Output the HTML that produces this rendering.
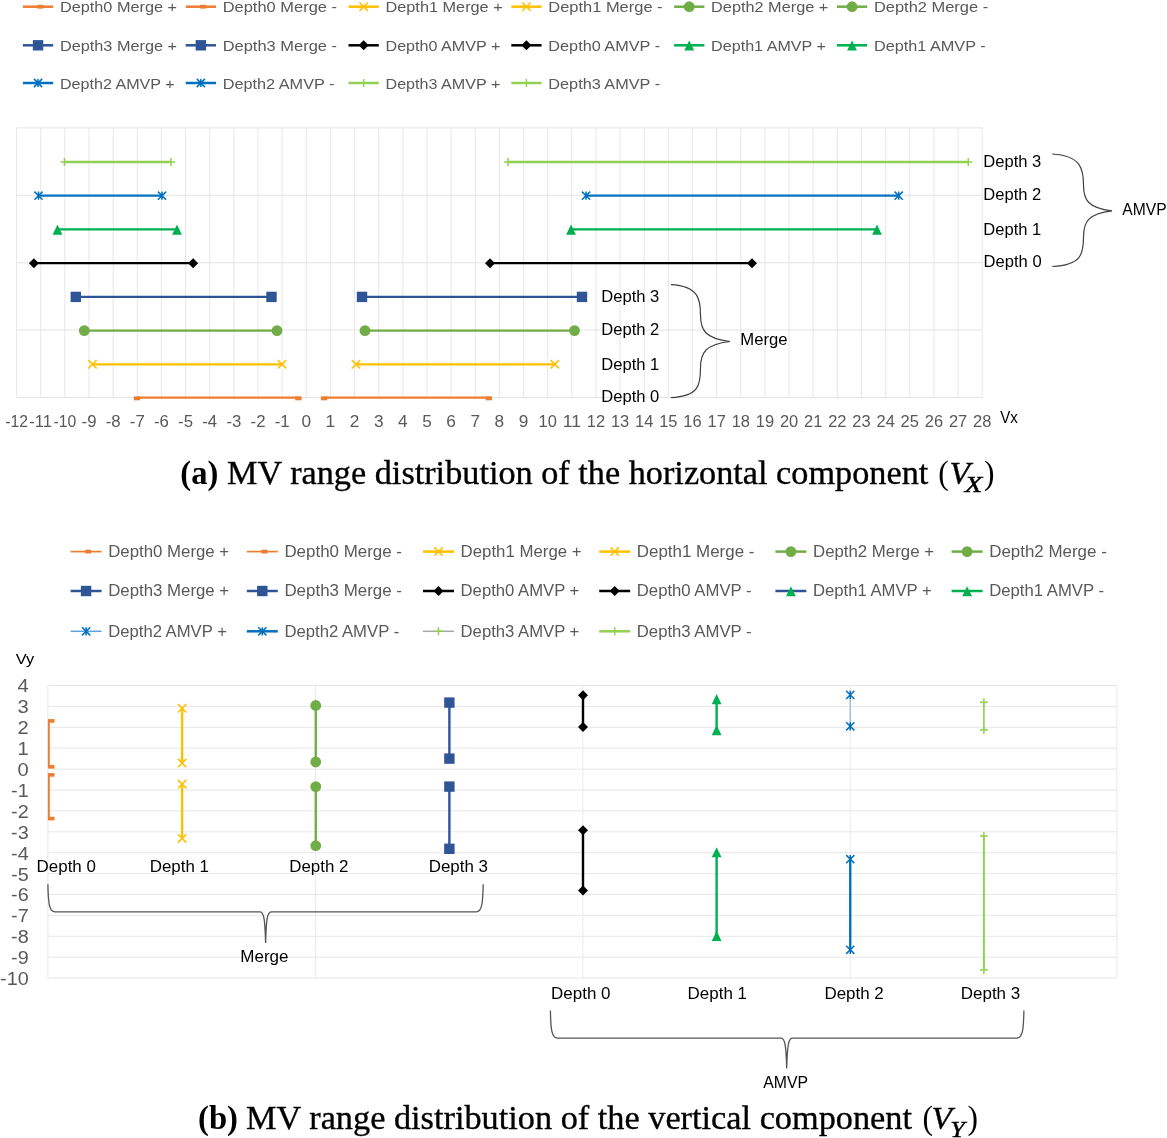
<!DOCTYPE html>
<html lang="en"><head><meta charset="utf-8"><title>MV range distribution</title>
<style>html,body{margin:0;padding:0;background:#fff}body{width:1167px;height:1138px;overflow:hidden}svg{display:block}</style>
</head><body>
<svg width="1167" height="1138" viewBox="0 0 1167 1138">
<rect width="1167" height="1138" fill="#fff"/>
<g font-family='"Liberation Sans", sans-serif' fill='#595959'>
<path d="M22.90 6.70H53.20" stroke="#ED7D31" stroke-width="2.5" fill="none"/>
<rect x="37.25" y="4.80" width="6" height="3.8" fill="#ED7D31"/>
<text x="59.90" y="12.30" font-size="15.5" textLength="117.20" lengthAdjust="spacingAndGlyphs">Depth0 Merge +</text>
<path d="M185.70 6.70H216.00" stroke="#ED7D31" stroke-width="2.5" fill="none"/>
<rect x="200.05" y="4.80" width="6" height="3.8" fill="#ED7D31"/>
<text x="222.70" y="12.30" font-size="15.5" textLength="114.30" lengthAdjust="spacingAndGlyphs">Depth0 Merge -</text>
<path d="M348.50 6.70H378.80" stroke="#FFC000" stroke-width="2.5" fill="none"/>
<path d="M359.45 2.50L367.85 10.90M359.45 10.90L367.85 2.50" stroke="#FFC000" stroke-width="1.60" fill="none"/>
<text x="385.50" y="12.30" font-size="15.5" textLength="117.20" lengthAdjust="spacingAndGlyphs">Depth1 Merge +</text>
<path d="M511.30 6.70H541.60" stroke="#FFC000" stroke-width="2.5" fill="none"/>
<path d="M522.25 2.50L530.65 10.90M522.25 10.90L530.65 2.50" stroke="#FFC000" stroke-width="1.60" fill="none"/>
<text x="548.30" y="12.30" font-size="15.5" textLength="114.30" lengthAdjust="spacingAndGlyphs">Depth1 Merge -</text>
<path d="M674.10 6.70H704.40" stroke="#70AD47" stroke-width="2.5" fill="none"/>
<circle cx="689.25" cy="6.70" r="5.40" fill="#70AD47"/>
<text x="711.10" y="12.30" font-size="15.5" textLength="117.20" lengthAdjust="spacingAndGlyphs">Depth2 Merge +</text>
<path d="M836.90 6.70H867.20" stroke="#70AD47" stroke-width="2.5" fill="none"/>
<circle cx="852.05" cy="6.70" r="5.40" fill="#70AD47"/>
<text x="873.90" y="12.30" font-size="15.5" textLength="114.30" lengthAdjust="spacingAndGlyphs">Depth2 Merge -</text>
<path d="M22.90 45.30H53.20" stroke="#2F5597" stroke-width="2.5" fill="none"/>
<rect x="32.85" y="40.10" width="10.40" height="10.40" fill="#2F5597"/>
<text x="59.90" y="50.90" font-size="15.5" textLength="117.20" lengthAdjust="spacingAndGlyphs">Depth3 Merge +</text>
<path d="M185.70 45.30H216.00" stroke="#2F5597" stroke-width="2.5" fill="none"/>
<rect x="195.65" y="40.10" width="10.40" height="10.40" fill="#2F5597"/>
<text x="222.70" y="50.90" font-size="15.5" textLength="114.30" lengthAdjust="spacingAndGlyphs">Depth3 Merge -</text>
<path d="M348.50 45.30H378.80" stroke="#000000" stroke-width="2.5" fill="none"/>
<path d="M358.65 45.30L363.65 40.30L368.65 45.30L363.65 50.30Z" fill="#000000"/>
<text x="385.50" y="50.90" font-size="15.5" textLength="114.80" lengthAdjust="spacingAndGlyphs">Depth0 AMVP +</text>
<path d="M511.30 45.30H541.60" stroke="#000000" stroke-width="2.5" fill="none"/>
<path d="M521.45 45.30L526.45 40.30L531.45 45.30L526.45 50.30Z" fill="#000000"/>
<text x="548.30" y="50.90" font-size="15.5" textLength="111.80" lengthAdjust="spacingAndGlyphs">Depth0 AMVP -</text>
<path d="M674.10 45.30H704.40" stroke="#00B050" stroke-width="2.5" fill="none"/>
<path d="M684.35 50.59L689.25 40.50L694.15 50.59Z" fill="#00B050"/>
<text x="711.10" y="50.90" font-size="15.5" textLength="114.80" lengthAdjust="spacingAndGlyphs">Depth1 AMVP +</text>
<path d="M836.90 45.30H867.20" stroke="#00B050" stroke-width="2.5" fill="none"/>
<path d="M847.15 50.59L852.05 40.50L856.95 50.59Z" fill="#00B050"/>
<text x="873.90" y="50.90" font-size="15.5" textLength="111.80" lengthAdjust="spacingAndGlyphs">Depth1 AMVP -</text>
<path d="M22.90 83.00H53.20" stroke="#0070C0" stroke-width="2.5" fill="none"/>
<path d="M33.95 78.90L42.15 87.10M33.95 87.10L42.15 78.90M38.05 78.90L38.05 87.10" stroke="#0070C0" stroke-width="1.50" fill="none"/>
<text x="59.90" y="88.60" font-size="15.5" textLength="114.80" lengthAdjust="spacingAndGlyphs">Depth2 AMVP +</text>
<path d="M185.70 83.00H216.00" stroke="#0070C0" stroke-width="2.5" fill="none"/>
<path d="M196.75 78.90L204.95 87.10M196.75 87.10L204.95 78.90M200.85 78.90L200.85 87.10" stroke="#0070C0" stroke-width="1.50" fill="none"/>
<text x="222.70" y="88.60" font-size="15.5" textLength="111.80" lengthAdjust="spacingAndGlyphs">Depth2 AMVP -</text>
<path d="M348.50 83.00H378.80" stroke="#92D050" stroke-width="2.5" fill="none"/>
<path d="M359.65 83.00L367.65 83.00M363.65 79.00L363.65 87.00" stroke="#92D050" stroke-width="1.50" fill="none"/>
<text x="385.50" y="88.60" font-size="15.5" textLength="114.80" lengthAdjust="spacingAndGlyphs">Depth3 AMVP +</text>
<path d="M511.30 83.00H541.60" stroke="#92D050" stroke-width="2.5" fill="none"/>
<path d="M522.45 83.00L530.45 83.00M526.45 79.00L526.45 87.00" stroke="#92D050" stroke-width="1.50" fill="none"/>
<text x="548.30" y="88.60" font-size="15.5" textLength="111.80" lengthAdjust="spacingAndGlyphs">Depth3 AMVP -</text>
<path d="M16.60 127.9V397.5M40.74 127.9V397.5M64.88 127.9V397.5M89.02 127.9V397.5M113.16 127.9V397.5M137.30 127.9V397.5M161.44 127.9V397.5M185.58 127.9V397.5M209.72 127.9V397.5M233.86 127.9V397.5M258.00 127.9V397.5M282.14 127.9V397.5M306.28 127.9V397.5M330.42 127.9V397.5M354.56 127.9V397.5M378.70 127.9V397.5M402.84 127.9V397.5M426.98 127.9V397.5M451.12 127.9V397.5M475.26 127.9V397.5M499.40 127.9V397.5M523.54 127.9V397.5M547.68 127.9V397.5M571.82 127.9V397.5M595.96 127.9V397.5M620.10 127.9V397.5M644.24 127.9V397.5M668.38 127.9V397.5M692.52 127.9V397.5M716.66 127.9V397.5M740.80 127.9V397.5M764.94 127.9V397.5M789.08 127.9V397.5M813.22 127.9V397.5M837.36 127.9V397.5M861.50 127.9V397.5M885.64 127.9V397.5M909.78 127.9V397.5M933.92 127.9V397.5M958.06 127.9V397.5M982.20 127.9V397.5" stroke="#e7e7e7" stroke-width="1" fill="none"/>
<path d="M16.6 397.50H982.2M16.6 330.10H982.2M16.6 262.70H982.2M16.6 195.30H982.2M16.6 127.90H982.2" stroke="#e4e4e4" stroke-width="1" fill="none"/>
<text x="5.20" y="426.70" font-size="15.8" textLength="22.80" lengthAdjust="spacingAndGlyphs">-12</text>
<text x="29.34" y="426.70" font-size="15.8" textLength="22.80" lengthAdjust="spacingAndGlyphs">-11</text>
<text x="53.48" y="426.70" font-size="15.8" textLength="22.80" lengthAdjust="spacingAndGlyphs">-10</text>
<text x="81.57" y="426.70" font-size="15.8" textLength="14.90" lengthAdjust="spacingAndGlyphs">-9</text>
<text x="105.71" y="426.70" font-size="15.8" textLength="14.90" lengthAdjust="spacingAndGlyphs">-8</text>
<text x="129.85" y="426.70" font-size="15.8" textLength="14.90" lengthAdjust="spacingAndGlyphs">-7</text>
<text x="153.99" y="426.70" font-size="15.8" textLength="14.90" lengthAdjust="spacingAndGlyphs">-6</text>
<text x="178.13" y="426.70" font-size="15.8" textLength="14.90" lengthAdjust="spacingAndGlyphs">-5</text>
<text x="202.27" y="426.70" font-size="15.8" textLength="14.90" lengthAdjust="spacingAndGlyphs">-4</text>
<text x="226.41" y="426.70" font-size="15.8" textLength="14.90" lengthAdjust="spacingAndGlyphs">-3</text>
<text x="250.55" y="426.70" font-size="15.8" textLength="14.90" lengthAdjust="spacingAndGlyphs">-2</text>
<text x="274.69" y="426.70" font-size="15.8" textLength="14.90" lengthAdjust="spacingAndGlyphs">-1</text>
<text x="301.48" y="426.70" font-size="15.8" textLength="9.60" lengthAdjust="spacingAndGlyphs">0</text>
<text x="325.62" y="426.70" font-size="15.8" textLength="9.60" lengthAdjust="spacingAndGlyphs">1</text>
<text x="349.76" y="426.70" font-size="15.8" textLength="9.60" lengthAdjust="spacingAndGlyphs">2</text>
<text x="373.90" y="426.70" font-size="15.8" textLength="9.60" lengthAdjust="spacingAndGlyphs">3</text>
<text x="398.04" y="426.70" font-size="15.8" textLength="9.60" lengthAdjust="spacingAndGlyphs">4</text>
<text x="422.18" y="426.70" font-size="15.8" textLength="9.60" lengthAdjust="spacingAndGlyphs">5</text>
<text x="446.32" y="426.70" font-size="15.8" textLength="9.60" lengthAdjust="spacingAndGlyphs">6</text>
<text x="470.46" y="426.70" font-size="15.8" textLength="9.60" lengthAdjust="spacingAndGlyphs">7</text>
<text x="494.60" y="426.70" font-size="15.8" textLength="9.60" lengthAdjust="spacingAndGlyphs">8</text>
<text x="518.74" y="426.70" font-size="15.8" textLength="9.60" lengthAdjust="spacingAndGlyphs">9</text>
<text x="538.53" y="426.70" font-size="15.8" textLength="18.30" lengthAdjust="spacingAndGlyphs">10</text>
<text x="562.67" y="426.70" font-size="15.8" textLength="18.30" lengthAdjust="spacingAndGlyphs">11</text>
<text x="586.81" y="426.70" font-size="15.8" textLength="18.30" lengthAdjust="spacingAndGlyphs">12</text>
<text x="610.95" y="426.70" font-size="15.8" textLength="18.30" lengthAdjust="spacingAndGlyphs">13</text>
<text x="635.09" y="426.70" font-size="15.8" textLength="18.30" lengthAdjust="spacingAndGlyphs">14</text>
<text x="659.23" y="426.70" font-size="15.8" textLength="18.30" lengthAdjust="spacingAndGlyphs">15</text>
<text x="683.37" y="426.70" font-size="15.8" textLength="18.30" lengthAdjust="spacingAndGlyphs">16</text>
<text x="707.51" y="426.70" font-size="15.8" textLength="18.30" lengthAdjust="spacingAndGlyphs">17</text>
<text x="731.65" y="426.70" font-size="15.8" textLength="18.30" lengthAdjust="spacingAndGlyphs">18</text>
<text x="755.79" y="426.70" font-size="15.8" textLength="18.30" lengthAdjust="spacingAndGlyphs">19</text>
<text x="779.93" y="426.70" font-size="15.8" textLength="18.30" lengthAdjust="spacingAndGlyphs">20</text>
<text x="804.07" y="426.70" font-size="15.8" textLength="18.30" lengthAdjust="spacingAndGlyphs">21</text>
<text x="828.21" y="426.70" font-size="15.8" textLength="18.30" lengthAdjust="spacingAndGlyphs">22</text>
<text x="852.35" y="426.70" font-size="15.8" textLength="18.30" lengthAdjust="spacingAndGlyphs">23</text>
<text x="876.49" y="426.70" font-size="15.8" textLength="18.30" lengthAdjust="spacingAndGlyphs">24</text>
<text x="900.63" y="426.70" font-size="15.8" textLength="18.30" lengthAdjust="spacingAndGlyphs">25</text>
<text x="924.77" y="426.70" font-size="15.8" textLength="18.30" lengthAdjust="spacingAndGlyphs">26</text>
<text x="948.91" y="426.70" font-size="15.8" textLength="18.30" lengthAdjust="spacingAndGlyphs">27</text>
<text x="973.05" y="426.70" font-size="15.8" textLength="18.30" lengthAdjust="spacingAndGlyphs">28</text>
<text x="1000.30" y="423.40" font-size="16" fill="#000" textLength="17.60" lengthAdjust="spacingAndGlyphs">Vx</text>
<path d="M137.00 397.65H298.40" stroke="#ED7D31" stroke-width="2.3" fill="none"/>
<rect x="133.80" y="396.40" width="6.4" height="3.9" fill="#ED7D31"/>
<rect x="295.20" y="396.40" width="6.4" height="3.9" fill="#ED7D31"/>
<path d="M324.10 397.65H488.80" stroke="#ED7D31" stroke-width="2.3" fill="none"/>
<rect x="320.90" y="396.40" width="6.4" height="3.9" fill="#ED7D31"/>
<rect x="485.60" y="396.40" width="6.4" height="3.9" fill="#ED7D31"/>
<path d="M92.50 364.30H282.00" stroke="#FFC000" stroke-width="2.3" fill="none"/>
<path d="M88.30 360.10L96.70 368.50M88.30 368.50L96.70 360.10" stroke="#FFC000" stroke-width="1.60" fill="none"/>
<path d="M277.80 360.10L286.20 368.50M277.80 368.50L286.20 360.10" stroke="#FFC000" stroke-width="1.60" fill="none"/>
<path d="M356.00 364.30H554.80" stroke="#FFC000" stroke-width="2.3" fill="none"/>
<path d="M351.80 360.10L360.20 368.50M351.80 368.50L360.20 360.10" stroke="#FFC000" stroke-width="1.60" fill="none"/>
<path d="M550.60 360.10L559.00 368.50M550.60 368.50L559.00 360.10" stroke="#FFC000" stroke-width="1.60" fill="none"/>
<path d="M84.30 330.60H277.00" stroke="#70AD47" stroke-width="2.3" fill="none"/>
<circle cx="84.30" cy="330.60" r="5.40" fill="#70AD47"/>
<circle cx="277.00" cy="330.60" r="5.40" fill="#70AD47"/>
<path d="M365.00 330.60H574.50" stroke="#70AD47" stroke-width="2.3" fill="none"/>
<circle cx="365.00" cy="330.60" r="5.40" fill="#70AD47"/>
<circle cx="574.50" cy="330.60" r="5.40" fill="#70AD47"/>
<path d="M75.80 296.90H271.50" stroke="#2F5597" stroke-width="2.3" fill="none"/>
<rect x="70.60" y="291.70" width="10.40" height="10.40" fill="#2F5597"/>
<rect x="266.30" y="291.70" width="10.40" height="10.40" fill="#2F5597"/>
<path d="M362.00 296.90H582.00" stroke="#2F5597" stroke-width="2.3" fill="none"/>
<rect x="356.80" y="291.70" width="10.40" height="10.40" fill="#2F5597"/>
<rect x="576.80" y="291.70" width="10.40" height="10.40" fill="#2F5597"/>
<path d="M33.90 263.20H193.10" stroke="#000000" stroke-width="2.3" fill="none"/>
<path d="M28.90 263.20L33.90 258.20L38.90 263.20L33.90 268.20Z" fill="#000000"/>
<path d="M188.10 263.20L193.10 258.20L198.10 263.20L193.10 268.20Z" fill="#000000"/>
<path d="M490.00 263.20H752.00" stroke="#000000" stroke-width="2.3" fill="none"/>
<path d="M485.00 263.20L490.00 258.20L495.00 263.20L490.00 268.20Z" fill="#000000"/>
<path d="M747.00 263.20L752.00 258.20L757.00 263.20L752.00 268.20Z" fill="#000000"/>
<path d="M57.50 229.40H177.00" stroke="#00B050" stroke-width="2.3" fill="none"/>
<path d="M52.60 234.69L57.50 224.60L62.40 234.69Z" fill="#00B050"/>
<path d="M172.10 234.69L177.00 224.60L181.90 234.69Z" fill="#00B050"/>
<path d="M571.00 229.40H877.00" stroke="#00B050" stroke-width="2.3" fill="none"/>
<path d="M566.10 234.69L571.00 224.60L575.90 234.69Z" fill="#00B050"/>
<path d="M872.10 234.69L877.00 224.60L881.90 234.69Z" fill="#00B050"/>
<path d="M38.50 195.70H162.00" stroke="#0070C0" stroke-width="2.3" fill="none"/>
<path d="M34.40 191.60L42.60 199.80M34.40 199.80L42.60 191.60M38.50 191.60L38.50 199.80" stroke="#0070C0" stroke-width="1.50" fill="none"/>
<path d="M157.90 191.60L166.10 199.80M157.90 199.80L166.10 191.60M162.00 191.60L162.00 199.80" stroke="#0070C0" stroke-width="1.50" fill="none"/>
<path d="M586.00 195.70H898.70" stroke="#0070C0" stroke-width="2.3" fill="none"/>
<path d="M581.90 191.60L590.10 199.80M581.90 199.80L590.10 191.60M586.00 191.60L586.00 199.80" stroke="#0070C0" stroke-width="1.50" fill="none"/>
<path d="M894.60 191.60L902.80 199.80M894.60 199.80L902.80 191.60M898.70 191.60L898.70 199.80" stroke="#0070C0" stroke-width="1.50" fill="none"/>
<path d="M64.40 162.00H171.00" stroke="#92D050" stroke-width="2.3" fill="none"/>
<path d="M60.40 162.00L68.40 162.00M64.40 158.00L64.40 166.00" stroke="#92D050" stroke-width="1.50" fill="none"/>
<path d="M167.00 162.00L175.00 162.00M171.00 158.00L171.00 166.00" stroke="#92D050" stroke-width="1.50" fill="none"/>
<path d="M508.00 162.00H968.30" stroke="#92D050" stroke-width="2.3" fill="none"/>
<path d="M504.00 162.00L512.00 162.00M508.00 158.00L508.00 166.00" stroke="#92D050" stroke-width="1.50" fill="none"/>
<path d="M964.30 162.00L972.30 162.00M968.30 158.00L968.30 166.00" stroke="#92D050" stroke-width="1.50" fill="none"/>
<text x="601.30" y="402.30" font-size="16.5" fill="#000" textLength="58.00" lengthAdjust="spacingAndGlyphs">Depth 0</text>
<text x="601.30" y="369.70" font-size="16.5" fill="#000" textLength="58.00" lengthAdjust="spacingAndGlyphs">Depth 1</text>
<text x="601.30" y="334.80" font-size="16.5" fill="#000" textLength="58.00" lengthAdjust="spacingAndGlyphs">Depth 2</text>
<text x="601.30" y="302.20" font-size="16.5" fill="#000" textLength="58.00" lengthAdjust="spacingAndGlyphs">Depth 3</text>
<text x="983.60" y="267.20" font-size="16.5" fill="#000" textLength="58.00" lengthAdjust="spacingAndGlyphs">Depth 0</text>
<text x="983.30" y="234.60" font-size="16.5" fill="#000" textLength="58.00" lengthAdjust="spacingAndGlyphs">Depth 1</text>
<text x="983.30" y="200.20" font-size="16.5" fill="#000" textLength="58.00" lengthAdjust="spacingAndGlyphs">Depth 2</text>
<text x="983.30" y="167.30" font-size="16.5" fill="#000" textLength="58.00" lengthAdjust="spacingAndGlyphs">Depth 3</text>
<text x="740.30" y="345.00" font-size="16.6" fill="#000" textLength="47.30" lengthAdjust="spacingAndGlyphs">Merge</text>
<text x="1122.30" y="214.60" font-size="16.6" fill="#000" textLength="44.30" lengthAdjust="spacingAndGlyphs">AMVP</text>
<path d="M671 284.6C699 286 700.5 300 700.5 315C700.5 330 705 338.5 730 341.5C705 344.5 700.5 353 700.5 368C700.5 385 699 396.3 671 397.7" stroke="#404040" stroke-width="1.2" fill="none"/>
<path d="M1052.2 154C1081.5 155.5 1083.5 170 1083.5 185C1083.5 200 1088 208 1112 210.8C1088 213.6 1083.5 222 1083.5 237C1083.5 254 1081.5 265 1052.2 266.5" stroke="#404040" stroke-width="1.2" fill="none"/>
<text x="180.30" y="484.30" font-size="34" fill="#000" textLength="38.00" lengthAdjust="spacingAndGlyphs" font-family='"Liberation Serif", serif' font-weight="bold">(a)</text>
<text x="227" y="484.3" font-size="34" fill="#000" stroke="#000" stroke-width="0.35" font-family='"Liberation Serif", serif' textLength="701.30" lengthAdjust="spacingAndGlyphs">MV range distribution of the horizontal component</text>
<text x="938.30" y="484.30" font-size="34" fill="#000" textLength="10.50" lengthAdjust="spacingAndGlyphs" font-family='"Liberation Serif", serif'>(</text>
<text x="949.5" y="484.3" font-size="32.5" fill="#000" stroke="#000" stroke-width="0.4" font-family='"Liberation Serif", serif' font-style="italic" textLength="20.5" lengthAdjust="spacingAndGlyphs">V</text>
<text x="964.8" y="491.5" font-size="22.5" fill="#000" stroke="#000" stroke-width="0.45" font-family='"Liberation Serif", serif' font-style="italic" textLength="17.5" lengthAdjust="spacingAndGlyphs">X</text>
<text x="984.00" y="484.30" font-size="34" fill="#000" textLength="10.50" lengthAdjust="spacingAndGlyphs" font-family='"Liberation Serif", serif'>)</text>
<path d="M70.60 551.60H101.60" stroke="#ED7D31" stroke-width="1.7" fill="none"/>
<rect x="85.30" y="549.70" width="6" height="3.8" fill="#ED7D31"/>
<text x="108.20" y="557.00" font-size="17" textLength="121.00" lengthAdjust="spacingAndGlyphs">Depth0 Merge +</text>
<path d="M246.80 551.60H277.80" stroke="#ED7D31" stroke-width="1.7" fill="none"/>
<rect x="261.50" y="549.70" width="6" height="3.8" fill="#ED7D31"/>
<text x="284.40" y="557.00" font-size="17" textLength="117.60" lengthAdjust="spacingAndGlyphs">Depth0 Merge -</text>
<path d="M423.00 551.60H454.00" stroke="#FFC000" stroke-width="2.5" fill="none"/>
<path d="M434.30 547.40L442.70 555.80M434.30 555.80L442.70 547.40" stroke="#FFC000" stroke-width="1.60" fill="none"/>
<text x="460.60" y="557.00" font-size="17" textLength="121.00" lengthAdjust="spacingAndGlyphs">Depth1 Merge +</text>
<path d="M599.20 551.60H630.20" stroke="#FFC000" stroke-width="2.5" fill="none"/>
<path d="M610.50 547.40L618.90 555.80M610.50 555.80L618.90 547.40" stroke="#FFC000" stroke-width="1.60" fill="none"/>
<text x="636.80" y="557.00" font-size="17" textLength="117.60" lengthAdjust="spacingAndGlyphs">Depth1 Merge -</text>
<path d="M775.40 551.60H806.40" stroke="#70AD47" stroke-width="2.5" fill="none"/>
<circle cx="790.90" cy="551.60" r="5.40" fill="#70AD47"/>
<text x="813.00" y="557.00" font-size="17" textLength="121.00" lengthAdjust="spacingAndGlyphs">Depth2 Merge +</text>
<path d="M951.60 551.60H982.60" stroke="#70AD47" stroke-width="2.5" fill="none"/>
<circle cx="967.10" cy="551.60" r="5.40" fill="#70AD47"/>
<text x="989.20" y="557.00" font-size="17" textLength="117.60" lengthAdjust="spacingAndGlyphs">Depth2 Merge -</text>
<path d="M70.60 591.00H101.60" stroke="#2F5597" stroke-width="2.5" fill="none"/>
<rect x="80.90" y="585.80" width="10.40" height="10.40" fill="#2F5597"/>
<text x="108.20" y="596.40" font-size="17" textLength="121.00" lengthAdjust="spacingAndGlyphs">Depth3 Merge +</text>
<path d="M246.80 591.00H277.80" stroke="#2F5597" stroke-width="2.5" fill="none"/>
<rect x="257.10" y="585.80" width="10.40" height="10.40" fill="#2F5597"/>
<text x="284.40" y="596.40" font-size="17" textLength="117.60" lengthAdjust="spacingAndGlyphs">Depth3 Merge -</text>
<path d="M423.00 591.00H454.00" stroke="#000000" stroke-width="2.5" fill="none"/>
<path d="M433.50 591.00L438.50 586.00L443.50 591.00L438.50 596.00Z" fill="#000000"/>
<text x="460.60" y="596.40" font-size="17" textLength="118.70" lengthAdjust="spacingAndGlyphs">Depth0 AMVP +</text>
<path d="M599.20 591.00H630.20" stroke="#000000" stroke-width="2.5" fill="none"/>
<path d="M609.70 591.00L614.70 586.00L619.70 591.00L614.70 596.00Z" fill="#000000"/>
<text x="636.80" y="596.40" font-size="17" textLength="114.80" lengthAdjust="spacingAndGlyphs">Depth0 AMVP -</text>
<path d="M775.40 591.00H806.40" stroke="#2F5597" stroke-width="2.5" fill="none"/>
<path d="M786.00 596.29L790.90 586.20L795.80 596.29Z" fill="#00B050"/>
<text x="813.00" y="596.40" font-size="17" textLength="118.70" lengthAdjust="spacingAndGlyphs">Depth1 AMVP +</text>
<path d="M951.60 591.00H982.60" stroke="#00B050" stroke-width="2.5" fill="none"/>
<path d="M962.20 596.29L967.10 586.20L972.00 596.29Z" fill="#00B050"/>
<text x="989.20" y="596.40" font-size="17" textLength="114.80" lengthAdjust="spacingAndGlyphs">Depth1 AMVP -</text>
<path d="M70.60 631.30H101.60" stroke="#5BA3D9" stroke-width="1.5" fill="none"/>
<path d="M82.00 627.20L90.20 635.40M82.00 635.40L90.20 627.20M86.10 627.20L86.10 635.40" stroke="#0070C0" stroke-width="1.50" fill="none"/>
<text x="108.20" y="636.70" font-size="17" textLength="118.70" lengthAdjust="spacingAndGlyphs">Depth2 AMVP +</text>
<path d="M246.80 631.30H277.80" stroke="#0070C0" stroke-width="2.5" fill="none"/>
<path d="M258.20 627.20L266.40 635.40M258.20 635.40L266.40 627.20M262.30 627.20L262.30 635.40" stroke="#0070C0" stroke-width="1.50" fill="none"/>
<text x="284.40" y="636.70" font-size="17" textLength="114.80" lengthAdjust="spacingAndGlyphs">Depth2 AMVP -</text>
<path d="M423.00 631.30H454.00" stroke="#a6a6a6" stroke-width="1.5" fill="none"/>
<path d="M434.50 631.30L442.50 631.30M438.50 627.30L438.50 635.30" stroke="#92D050" stroke-width="1.50" fill="none"/>
<text x="460.60" y="636.70" font-size="17" textLength="118.70" lengthAdjust="spacingAndGlyphs">Depth3 AMVP +</text>
<path d="M599.20 631.30H630.20" stroke="#92D050" stroke-width="2.5" fill="none"/>
<path d="M610.70 631.30L618.70 631.30M614.70 627.30L614.70 635.30" stroke="#92D050" stroke-width="1.50" fill="none"/>
<text x="636.80" y="636.70" font-size="17" textLength="114.80" lengthAdjust="spacingAndGlyphs">Depth3 AMVP -</text>
<path d="M47.9 685.50H1116.9M47.9 706.40H1116.9M47.9 727.30H1116.9M47.9 748.20H1116.9M47.9 769.10H1116.9M47.9 790.00H1116.9M47.9 810.90H1116.9M47.9 831.80H1116.9M47.9 852.70H1116.9M47.9 873.60H1116.9M47.9 894.50H1116.9M47.9 915.40H1116.9M47.9 936.30H1116.9M47.9 957.20H1116.9M47.9 978.10H1116.9" stroke="#e7e7e7" stroke-width="1" fill="none"/>
<path d="M47.90 685.5V978.1M315.65 685.5V978.1M582.90 685.5V978.1M850.15 685.5V978.1M1116.90 685.5V978.1" stroke="#e8e8e8" stroke-width="1" fill="none"/>
<text x="17.50" y="692.40" font-size="19.2" textLength="11.20" lengthAdjust="spacingAndGlyphs">4</text>
<text x="17.50" y="713.30" font-size="19.2" textLength="11.20" lengthAdjust="spacingAndGlyphs">3</text>
<text x="17.50" y="734.20" font-size="19.2" textLength="11.20" lengthAdjust="spacingAndGlyphs">2</text>
<text x="17.50" y="755.10" font-size="19.2" textLength="11.20" lengthAdjust="spacingAndGlyphs">1</text>
<text x="17.50" y="776.00" font-size="19.2" textLength="11.20" lengthAdjust="spacingAndGlyphs">0</text>
<text x="11.10" y="796.90" font-size="19.2" textLength="17.60" lengthAdjust="spacingAndGlyphs">-1</text>
<text x="11.10" y="817.80" font-size="19.2" textLength="17.60" lengthAdjust="spacingAndGlyphs">-2</text>
<text x="11.10" y="838.70" font-size="19.2" textLength="17.60" lengthAdjust="spacingAndGlyphs">-3</text>
<text x="11.10" y="859.60" font-size="19.2" textLength="17.60" lengthAdjust="spacingAndGlyphs">-4</text>
<text x="11.10" y="880.50" font-size="19.2" textLength="17.60" lengthAdjust="spacingAndGlyphs">-5</text>
<text x="11.10" y="901.40" font-size="19.2" textLength="17.60" lengthAdjust="spacingAndGlyphs">-6</text>
<text x="11.10" y="922.30" font-size="19.2" textLength="17.60" lengthAdjust="spacingAndGlyphs">-7</text>
<text x="11.10" y="943.20" font-size="19.2" textLength="17.60" lengthAdjust="spacingAndGlyphs">-8</text>
<text x="11.10" y="964.10" font-size="19.2" textLength="17.60" lengthAdjust="spacingAndGlyphs">-9</text>
<text x="0.10" y="985.00" font-size="19.2" textLength="28.60" lengthAdjust="spacingAndGlyphs">-10</text>
<text x="15.80" y="664.20" font-size="14.8" fill="#000" textLength="18.50" lengthAdjust="spacingAndGlyphs">Vy</text>
<rect x="47.90" y="720.90" width="1.9" height="45.90" fill="#ED7D31"/>
<rect x="47.90" y="719.10" width="6.6" height="3.6" fill="#ED7D31"/>
<rect x="47.90" y="765.00" width="6.6" height="3.6" fill="#ED7D31"/>
<rect x="47.90" y="774.90" width="1.9" height="43.70" fill="#ED7D31"/>
<rect x="47.90" y="773.10" width="6.6" height="3.6" fill="#ED7D31"/>
<rect x="47.90" y="816.80" width="6.6" height="3.6" fill="#ED7D31"/>
<path d="M182.12 708.30V763.10" stroke="#FFC000" stroke-width="2.4" fill="none"/>
<path d="M177.93 704.10L186.32 712.50M177.93 712.50L186.32 704.10" stroke="#FFC000" stroke-width="1.60" fill="none"/>
<path d="M177.93 758.90L186.32 767.30M177.93 767.30L186.32 758.90" stroke="#FFC000" stroke-width="1.60" fill="none"/>
<path d="M182.12 784.10V838.40" stroke="#FFC000" stroke-width="2.4" fill="none"/>
<path d="M177.93 779.90L186.32 788.30M177.93 788.30L186.32 779.90" stroke="#FFC000" stroke-width="1.60" fill="none"/>
<path d="M177.93 834.20L186.32 842.60M177.93 842.60L186.32 834.20" stroke="#FFC000" stroke-width="1.60" fill="none"/>
<path d="M315.75 705.50V762.00" stroke="#70AD47" stroke-width="2.4" fill="none"/>
<circle cx="315.75" cy="705.50" r="5.40" fill="#70AD47"/>
<circle cx="315.75" cy="762.00" r="5.40" fill="#70AD47"/>
<path d="M315.75 786.60V845.70" stroke="#70AD47" stroke-width="2.4" fill="none"/>
<circle cx="315.75" cy="786.60" r="5.40" fill="#70AD47"/>
<circle cx="315.75" cy="845.70" r="5.40" fill="#70AD47"/>
<path d="M449.38 702.60V758.60" stroke="#2F5597" stroke-width="2.4" fill="none"/>
<rect x="444.18" y="697.40" width="10.40" height="10.40" fill="#2F5597"/>
<rect x="444.18" y="753.40" width="10.40" height="10.40" fill="#2F5597"/>
<path d="M449.38 786.60V848.80" stroke="#2F5597" stroke-width="2.4" fill="none"/>
<rect x="444.18" y="781.40" width="10.40" height="10.40" fill="#2F5597"/>
<rect x="444.18" y="843.60" width="10.40" height="10.40" fill="#2F5597"/>
<path d="M583.00 695.30V727.10" stroke="#000000" stroke-width="2.4" fill="none"/>
<path d="M578.00 695.30L583.00 690.30L588.00 695.30L583.00 700.30Z" fill="#000000"/>
<path d="M578.00 727.10L583.00 722.10L588.00 727.10L583.00 732.10Z" fill="#000000"/>
<path d="M583.00 830.20V890.60" stroke="#000000" stroke-width="2.4" fill="none"/>
<path d="M578.00 830.20L583.00 825.20L588.00 830.20L583.00 835.20Z" fill="#000000"/>
<path d="M578.00 890.60L583.00 885.60L588.00 890.60L583.00 895.60Z" fill="#000000"/>
<path d="M716.62 698.90V729.90" stroke="#00B050" stroke-width="2.4" fill="none"/>
<path d="M711.73 704.19L716.62 694.10L721.52 704.19Z" fill="#00B050"/>
<path d="M711.73 735.19L716.62 725.10L721.52 735.19Z" fill="#00B050"/>
<path d="M716.62 852.00V935.70" stroke="#00B050" stroke-width="2.4" fill="none"/>
<path d="M711.73 857.29L716.62 847.20L721.52 857.29Z" fill="#00B050"/>
<path d="M711.73 940.99L716.62 930.90L721.52 940.99Z" fill="#00B050"/>
<path d="M850.25 694.90V726.30" stroke="#8DBDE6" stroke-width="1.3" fill="none"/>
<path d="M846.15 690.80L854.35 699.00M846.15 699.00L854.35 690.80M850.25 690.80L850.25 699.00" stroke="#0070C0" stroke-width="1.50" fill="none"/>
<path d="M846.15 722.20L854.35 730.40M846.15 730.40L854.35 722.20M850.25 722.20L850.25 730.40" stroke="#0070C0" stroke-width="1.50" fill="none"/>
<path d="M850.25 859.20V949.80" stroke="#0070C0" stroke-width="2.4" fill="none"/>
<path d="M846.15 855.10L854.35 863.30M846.15 863.30L854.35 855.10M850.25 855.10L850.25 863.30" stroke="#0070C0" stroke-width="1.50" fill="none"/>
<path d="M846.15 945.70L854.35 953.90M846.15 953.90L854.35 945.70M850.25 945.70L850.25 953.90" stroke="#0070C0" stroke-width="1.50" fill="none"/>
<path d="M983.88 702.20V729.90" stroke="#92D050" stroke-width="1.6" fill="none"/>
<path d="M979.88 702.20L987.88 702.20M983.88 698.20L983.88 706.20" stroke="#92D050" stroke-width="1.50" fill="none"/>
<path d="M979.88 729.90L987.88 729.90M983.88 725.90L983.88 733.90" stroke="#92D050" stroke-width="1.50" fill="none"/>
<path d="M983.88 835.90V970.00" stroke="#92D050" stroke-width="2.0" fill="none"/>
<path d="M979.88 835.90L987.88 835.90M983.88 831.90L983.88 839.90" stroke="#92D050" stroke-width="1.50" fill="none"/>
<path d="M979.88 970.00L987.88 970.00M983.88 966.00L983.88 974.00" stroke="#92D050" stroke-width="1.50" fill="none"/>
<text x="36.60" y="872.30" font-size="16.2" fill="#000" textLength="59.30" lengthAdjust="spacingAndGlyphs">Depth 0</text>
<text x="149.70" y="872.30" font-size="16.2" fill="#000" textLength="59.30" lengthAdjust="spacingAndGlyphs">Depth 1</text>
<text x="289.20" y="872.30" font-size="16.2" fill="#000" textLength="59.30" lengthAdjust="spacingAndGlyphs">Depth 2</text>
<text x="428.70" y="872.30" font-size="16.2" fill="#000" textLength="59.30" lengthAdjust="spacingAndGlyphs">Depth 3</text>
<text x="551.10" y="998.90" font-size="16.0" fill="#000" textLength="59.40" lengthAdjust="spacingAndGlyphs">Depth 0</text>
<text x="687.60" y="998.90" font-size="16.0" fill="#000" textLength="59.40" lengthAdjust="spacingAndGlyphs">Depth 1</text>
<text x="824.40" y="998.90" font-size="16.0" fill="#000" textLength="59.40" lengthAdjust="spacingAndGlyphs">Depth 2</text>
<text x="960.80" y="998.90" font-size="16.0" fill="#000" textLength="59.40" lengthAdjust="spacingAndGlyphs">Depth 3</text>
<text x="240.30" y="961.80" font-size="17.2" fill="#000" textLength="48.20" lengthAdjust="spacingAndGlyphs">Merge</text>
<text x="763.20" y="1087.90" font-size="16.6" fill="#000" textLength="44.80" lengthAdjust="spacingAndGlyphs">AMVP</text>
<path d="M47.9 884.2C48.2 903.9 49.4 911.9 54.9 911.9H260.1C264.1 911.9 265.0 920.9 265.6 943.0C266.2 920.9 267.1 911.9 271.1 911.9H476.2C481.7 911.9 482.9 903.9 483.2 884.2" stroke="#555" stroke-width="1.3" fill="none"/>
<path d="M550.4 1010.6C550.7 1030.1 551.9 1038.1 557.4 1038.1H781.2C785.2 1038.1 786.1 1047.1 786.7 1068.6C787.3 1047.1 788.2 1038.1 792.2 1038.1H1016.9C1022.4 1038.1 1023.6 1030.1 1023.9 1010.6" stroke="#555" stroke-width="1.3" fill="none"/>
<text x="198.00" y="1129.30" font-size="34" fill="#000" textLength="40.00" lengthAdjust="spacingAndGlyphs" font-family='"Liberation Serif", serif' font-weight="bold">(b)</text>
<text x="246" y="1129.3" font-size="34" fill="#000" stroke="#000" stroke-width="0.35" font-family='"Liberation Serif", serif' textLength="666.00" lengthAdjust="spacingAndGlyphs">MV range distribution of the vertical component</text>
<text x="922.50" y="1129.30" font-size="34" fill="#000" textLength="10.50" lengthAdjust="spacingAndGlyphs" font-family='"Liberation Serif", serif'>(</text>
<text x="931.5" y="1129.3" font-size="32.5" fill="#000" stroke="#000" stroke-width="0.4" font-family='"Liberation Serif", serif' font-style="italic" textLength="20.5" lengthAdjust="spacingAndGlyphs">V</text>
<text x="950.3" y="1136.5" font-size="22.5" fill="#000" stroke="#000" stroke-width="0.45" font-family='"Liberation Serif", serif' font-style="italic" textLength="14.5" lengthAdjust="spacingAndGlyphs">Y</text>
<text x="967.50" y="1129.30" font-size="34" fill="#000" textLength="10.50" lengthAdjust="spacingAndGlyphs" font-family='"Liberation Serif", serif'>)</text>
</g></svg></body></html>
